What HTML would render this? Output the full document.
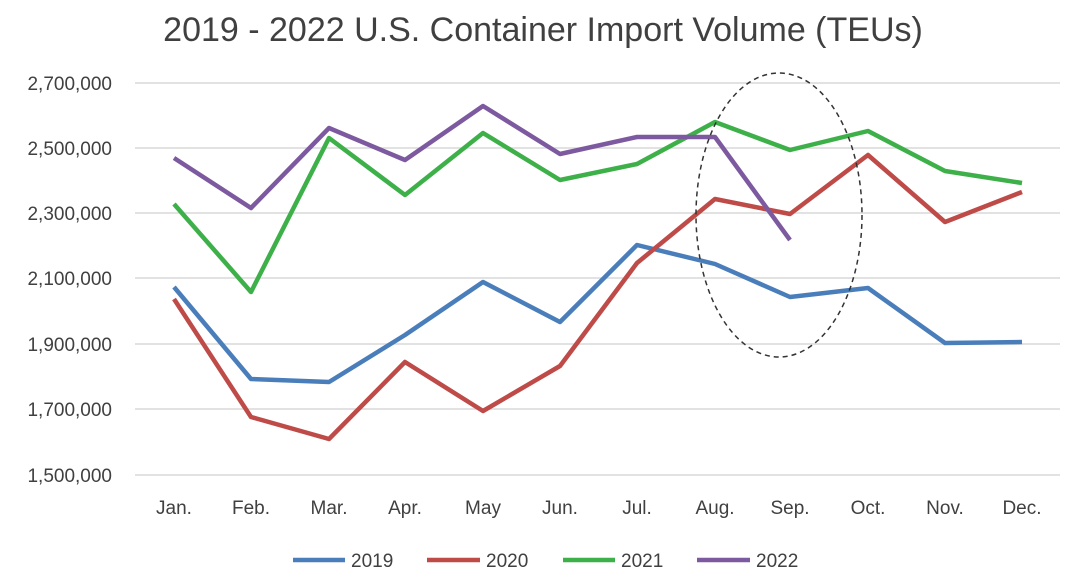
<!DOCTYPE html>
<html><head><meta charset="utf-8"><style>
body{margin:0;background:#fff;}
svg{display:block;font-family:"Liberation Sans",sans-serif;}
</style></head><body>
<svg width="1080" height="588" viewBox="0 0 1080 588">
<rect width="1080" height="588" fill="#fff"/>
<text x="543" y="41" text-anchor="middle" font-size="34" fill="#404040">2019 - 2022 U.S. Container Import Volume (TEUs)</text>
<g stroke="#d9d9d9" stroke-width="1.5">
<line x1="135" x2="1060" y1="83" y2="83"/>
<line x1="135" x2="1060" y1="148" y2="148"/>
<line x1="135" x2="1060" y1="213" y2="213"/>
<line x1="135" x2="1060" y1="278" y2="278"/>
<line x1="135" x2="1060" y1="344" y2="344"/>
<line x1="135" x2="1060" y1="409" y2="409"/>
<line x1="135" x2="1060" y1="475" y2="475"/>
</g>
<g font-size="19" fill="#404040" text-anchor="end">
<text x="112" y="90">2,700,000</text>
<text x="112" y="155">2,500,000</text>
<text x="112" y="220">2,300,000</text>
<text x="112" y="285">2,100,000</text>
<text x="112" y="351">1,900,000</text>
<text x="112" y="416">1,700,000</text>
<text x="112" y="482">1,500,000</text>
</g>
<g font-size="19" fill="#404040" text-anchor="middle">
<text x="174" y="514">Jan.</text><text x="251" y="514">Feb.</text><text x="329" y="514">Mar.</text>
<text x="405" y="514">Apr.</text><text x="483" y="514">May</text><text x="560" y="514">Jun.</text>
<text x="637" y="514">Jul.</text><text x="715" y="514">Aug.</text><text x="790" y="514">Sep.</text>
<text x="868" y="514">Oct.</text><text x="945" y="514">Nov.</text><text x="1022" y="514">Dec.</text>
</g>
<g fill="none" stroke-width="4.5" stroke-linejoin="round">
<polyline stroke="#4a7ebb" points="174,287 251,379 329,382 405,335 483,282 560,322 637,245 715,264 790,297 868,288 945,343 1022,342"/>
<polyline stroke="#be4b48" points="174,299 251,417 329,439 405,362 483,411 560,366 637,263 715,199 790,214 868,155 945,222 1022,192"/>
<polyline stroke="#3eb049" points="174,204 251,292 329,138 405,195 483,133 560,180 637,164 715,122 790,150 868,131 945,171 1022,183"/>
<polyline stroke="#7d5a9f" points="174,158 251,208 329,128 405,160 483,106 560,154 637,137 715,137 790,240"/>
</g>
<ellipse cx="779" cy="215" rx="83" ry="142" fill="none" stroke="#333" stroke-width="1.5" stroke-dasharray="5,4"/>
<g stroke-width="4.5">
<line x1="293" x2="345" y1="560" y2="560" stroke="#4a7ebb"/>
<line x1="427" x2="480" y1="560" y2="560" stroke="#be4b48"/>
<line x1="563" x2="615" y1="560" y2="560" stroke="#3eb049"/>
<line x1="697" x2="750" y1="560" y2="560" stroke="#7d5a9f"/>
</g>
<g font-size="19" fill="#404040">
<text x="351" y="567">2019</text><text x="486" y="567">2020</text>
<text x="621" y="567">2021</text><text x="756" y="567">2022</text>
</g>
</svg>
</body></html>
